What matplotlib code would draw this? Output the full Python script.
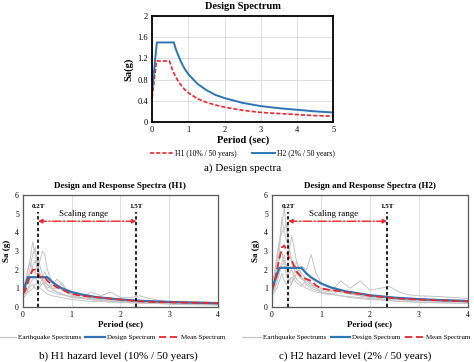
import matplotlib
matplotlib.use('Agg')
import matplotlib.pyplot as plt
from matplotlib.lines import Line2D

plt.rcParams['font.family'] = ['Liberation Serif', 'DejaVu Serif']

# Datos: espectro de diseno (arriba)
per_h1 = [0, 0.12, 0.48, 0.55, 0.6, 0.7, 0.8, 0.9, 1.0, 1.25, 1.5, 1.75, 2.0, 2.5, 3.0, 3.5, 4.0, 4.5, 5.0]
sa_h1 = [0.46, 1.15, 1.15, 1.0, 0.92, 0.79, 0.69, 0.61, 0.55, 0.44, 0.37, 0.32, 0.28, 0.22, 0.18, 0.16, 0.14, 0.12, 0.11]
per_h2 = [0, 0.13, 0.6, 0.65, 0.7, 0.8, 0.9, 1.0, 1.25, 1.5, 1.75, 2.0, 2.5, 3.0, 3.5, 4.0, 4.5, 5.0]
sa_h2 = [0.6, 1.5, 1.5, 1.38, 1.29, 1.13, 1.0, 0.9, 0.72, 0.6, 0.51, 0.45, 0.36, 0.3, 0.26, 0.23, 0.2, 0.18]

# Datos: espectros de respuesta (abajo)
periodos = [0, 0.05, 0.1, 0.15, 0.2, 0.25, 0.3, 0.35, 0.4, 0.45, 0.5, 0.6, 0.7, 0.8,
            0.9, 1.0, 1.2, 1.4, 1.6, 1.8, 2.0, 2.2, 2.4, 2.6, 2.8, 3.0, 3.5, 4.0]

sismos_h1 = [
    [0.8, 1.2, 2.0, 2.6, 3.5, 2.8, 2.2, 1.8, 1.5, 1.3, 1.2, 0.9, 0.8, 0.7, 0.6, 0.55, 0.5, 0.8, 0.6, 0.8, 0.5, 0.5, 0.6, 0.45, 0.35, 0.3, 0.3, 0.25],
    [0.7, 0.9, 1.5, 1.8, 2.2, 2.5, 2.0, 2.5, 3.0, 2.8, 2.0, 1.3, 1.1, 0.9, 0.8, 0.7, 0.6, 0.55, 0.5, 0.45, 0.4, 0.35, 0.3, 0.28, 0.25, 0.22, 0.2, 0.18],
    [0.6, 1.0, 1.4, 2.2, 2.8, 3.2, 2.4, 1.6, 1.4, 1.2, 1.0, 1.2, 1.5, 1.2, 0.8, 0.6, 0.5, 0.4, 0.35, 0.3, 0.3, 0.25, 0.22, 0.2, 0.2, 0.18, 0.15, 0.12],
    [0.7, 0.8, 1.0, 1.3, 1.5, 1.6, 1.3, 1.2, 1.6, 1.9, 1.5, 1.0, 1.0, 1.3, 0.9, 0.7, 0.6, 0.5, 0.45, 0.4, 0.35, 0.3, 0.28, 0.25, 0.22, 0.2, 0.18, 0.15],
    [0.6, 0.7, 0.9, 1.1, 1.2, 1.0, 0.9, 1.1, 1.3, 1.1, 0.9, 0.8, 0.7, 0.65, 0.6, 0.55, 0.5, 0.45, 0.4, 0.35, 0.3, 0.28, 0.25, 0.22, 0.2, 0.2, 0.18, 0.15],
    [0.9, 1.4, 2.0, 2.4, 2.0, 1.8, 2.7, 2.2, 1.7, 1.4, 1.2, 1.0, 0.8, 0.7, 0.6, 0.5, 0.45, 0.4, 0.35, 0.35, 0.3, 0.28, 0.25, 0.22, 0.2, 0.18, 0.15, 0.12],
    [0.5, 0.6, 0.8, 0.9, 1.0, 1.2, 1.3, 1.0, 0.9, 0.8, 0.7, 0.6, 0.55, 0.5, 0.45, 0.4, 0.35, 0.3, 0.3, 0.25, 0.25, 0.22, 0.2, 0.2, 0.18, 0.15, 0.12, 0.1],
]
media_h1 = [0.7, 0.9, 1.3, 1.7, 2.0, 2.0, 1.8, 1.6, 1.6, 1.6, 1.4, 1.2, 1.05, 0.95, 0.8, 0.7, 0.6, 0.55, 0.5, 0.45, 0.4, 0.35, 0.3, 0.28, 0.26, 0.25, 0.23, 0.2]
dis_per_h1 = [0, 0.1, 0.5, 0.6, 0.7, 0.8, 1.0, 1.2, 1.5, 2.0, 2.5, 3.0, 3.5, 4.0]
dis_sa_h1 = [0.8, 1.6, 1.6, 1.35, 1.15, 1.0, 0.8, 0.67, 0.53, 0.4, 0.32, 0.27, 0.23, 0.2]

sismos_h2 = [
    [1.0, 1.6, 2.5, 3.5, 4.5, 5.3, 4.0, 3.0, 2.5, 2.2, 2.0, 1.6, 1.3, 1.1, 1.0, 0.9, 0.8, 1.4, 1.0, 1.4, 0.9, 1.0, 1.1, 0.8, 0.65, 0.6, 0.55, 0.45],
    [0.8, 1.2, 2.0, 3.0, 4.8, 4.0, 3.5, 3.0, 3.8, 3.2, 2.4, 1.8, 1.5, 1.3, 1.1, 1.0, 0.9, 0.8, 0.7, 0.6, 0.55, 0.5, 0.45, 0.4, 0.38, 0.35, 0.3, 0.25],
    [1.2, 1.8, 2.8, 3.5, 4.0, 4.2, 4.5, 3.2, 2.4, 2.0, 1.8, 2.2, 2.0, 2.8, 1.8, 1.3, 1.0, 0.8, 0.7, 0.6, 0.5, 0.45, 0.4, 0.38, 0.35, 0.33, 0.3, 0.3],
    [0.7, 0.9, 1.3, 1.8, 2.2, 2.5, 2.0, 1.5, 1.2, 1.8, 2.5, 1.6, 1.2, 1.0, 0.9, 0.8, 0.7, 0.6, 0.55, 0.5, 0.45, 0.4, 0.35, 0.3, 0.28, 0.25, 0.22, 0.2],
    [0.9, 1.3, 2.0, 2.6, 3.0, 2.2, 1.6, 1.4, 1.6, 1.5, 1.3, 1.1, 1.5, 1.2, 1.0, 0.8, 0.7, 0.6, 0.5, 0.45, 0.4, 0.38, 0.35, 0.3, 0.28, 0.25, 0.22, 0.2],
    [0.6, 0.8, 1.0, 1.4, 1.8, 1.4, 1.2, 1.0, 1.3, 1.5, 1.8, 1.5, 1.4, 1.2, 1.1, 1.0, 0.9, 0.8, 0.7, 0.65, 0.6, 0.55, 0.5, 0.45, 0.42, 0.4, 0.4, 0.35],
    [0.8, 1.0, 1.5, 2.0, 2.4, 2.8, 2.0, 1.8, 2.0, 1.7, 1.5, 1.2, 1.0, 0.9, 0.8, 0.75, 0.65, 0.9, 0.8, 0.7, 0.6, 0.55, 0.5, 0.45, 0.4, 0.38, 0.35, 0.3],
]
media_h2 = [0.9, 1.3, 2.0, 2.6, 3.2, 3.3, 3.0, 2.6, 2.5, 2.2, 1.9, 1.6, 1.5, 1.4, 1.15, 1.0, 0.9, 0.85, 0.75, 0.7, 0.6, 0.55, 0.5, 0.45, 0.42, 0.4, 0.35, 0.3]
dis_per_h2 = [0, 0.15, 0.6, 0.7, 0.8, 1.0, 1.2, 1.5, 2.0, 2.5, 3.0, 3.5, 4.0]
dis_sa_h2 = [1.0, 2.1, 2.1, 1.8, 1.58, 1.26, 1.05, 0.84, 0.63, 0.5, 0.42, 0.36, 0.32]

rango_h1 = [0.31, 2.33]
rango_h2 = [0.33, 2.35]

azul = '#2E75B6'
rojo = '#E8262B'
gris = '#C4C4C4'

fig = plt.figure(figsize=(4.74, 3.62), dpi=100)

# a) Design spectra
ax = fig.add_axes([0.321, 0.663, 0.382, 0.293])
ax.plot(per_h1, sa_h1, color=rojo, ls=(0, (2.5, 1.2)), lw=1.2, label='H1 (10% / 50 years)')
ax.plot(per_h2, sa_h2, color=azul, lw=1.4, label='H2 (2% / 50 years)')
ax.set_xlim(0, 5)
ax.set_ylim(0, 2)
ax.set_xticks([0, 1, 2, 3, 4, 5])
ax.set_yticks([0, 0.4, 0.8, 1.2, 1.6, 2])
ax.set_yticklabels(['0', '0.4', '0.8', '1.2', '1.6', '2'])
ax.grid(True, color='#D9D9D9', lw=0.6)
ax.set_axisbelow(True)
ax.tick_params(length=0, labelsize=6, pad=3)
for s in ax.spines.values():
    s.set_color('black')
    s.set_linewidth(1.3)
ax.set_title('Design Spectrum', fontsize=7.5, fontweight='bold', pad=5)
ax.set_xlabel('Period (sec)', fontsize=7.5, fontweight='bold', labelpad=1)
ax.set_ylabel('Sa(g)', fontsize=7.5, fontweight='bold', labelpad=3)
ax.legend(loc='center', bbox_to_anchor=(0.5, -0.3), ncol=2, frameon=False,
          fontsize=5.5, handlelength=3, columnspacing=2, handletextpad=0.3)
fig.text(0.512, 1 - 168 / 362, 'a) Design spectra', ha='center', va='center', fontsize=8)


def panel(pos, sismos, media, dis_per, dis_sa, rango, titulo, caption, cx, lx):
    ax = fig.add_axes(pos)
    for s in sismos:
        ax.plot(periodos, s, color=gris, lw=0.7)
    ax.plot(dis_per, dis_sa, color=azul, lw=1.6)
    ax.plot(periodos, media, color=rojo, ls=(0, (4, 2)), lw=1.3)
    for x in rango:
        ax.plot([x, x], [0, 5.1], color='black', ls=(0, (2, 1.5)), lw=1.2)
    ax.text(rango[0], 5.25, '0.2T', ha='center', va='bottom', fontsize=5, fontweight='bold')
    ax.text(rango[1], 5.25, '1.5T', ha='center', va='bottom', fontsize=5, fontweight='bold')
    ax.annotate('', xy=(rango[0], 4.6), xytext=(rango[1], 4.6),
                arrowprops=dict(arrowstyle='<|-|>', color=rojo, lw=1.0, ls='-.',
                                mutation_scale=6, shrinkA=0, shrinkB=0))
    ax.text(1.25, 4.75, 'Scaling range', ha='center', va='bottom', fontsize=6.5)
    ax.set_xlim(0, 4)
    ax.set_ylim(0, 6)
    ax.set_xticks([0, 1, 2, 3, 4])
    ax.set_yticks([0, 1, 2, 3, 4, 5, 6])
    ax.grid(True, axis='x', color='#D9D9D9', lw=0.6)
    ax.set_axisbelow(True)
    ax.tick_params(length=0, labelsize=5.5, pad=3)
    for s in ax.spines.values():
        s.set_color('#595959')
        s.set_linewidth(0.9)
    ax.set_title(titulo, fontsize=6.5, fontweight='bold', pad=5)
    ax.set_xlabel('Period (sec)', fontsize=6.5, fontweight='bold', labelpad=1)
    ax.set_ylabel('Sa (g)', fontsize=6.5, fontweight='bold', labelpad=3)
    handles = [Line2D([], [], color=gris, lw=0.9),
               Line2D([], [], color=azul, lw=1.6),
               Line2D([], [], color=rojo, lw=1.3, ls=(0, (4, 2)))]
    ax.legend(handles, ['Earthquake Spectrums', 'Design Spectrum', 'Mean Spectrum'],
              loc='center', bbox_to_anchor=(lx, -0.27), ncol=3, frameon=False,
              fontsize=5.0, handlelength=2.8, columnspacing=0.6, handletextpad=0.3)
    fig.text(cx, 1 - 356 / 362, caption, ha='center', va='center', fontsize=8)


panel([0.0485, 0.152, 0.411, 0.309], sismos_h1, media_h1, dis_per_h1, dis_sa_h1, rango_h1,
      'Design and Response Spectra (H1)', 'b) H1 hazard level (10% / 50 years)', 0.25, 0.45)
panel([0.574, 0.152, 0.413, 0.309], sismos_h2, media_h2, dis_per_h2, dis_sa_h2, rango_h2,
      'Design and Response Spectra (H2)', 'c) H2 hazard level (2% / 50 years)', 0.75, 0.43)

fig.savefig('out.png', dpi=100)
